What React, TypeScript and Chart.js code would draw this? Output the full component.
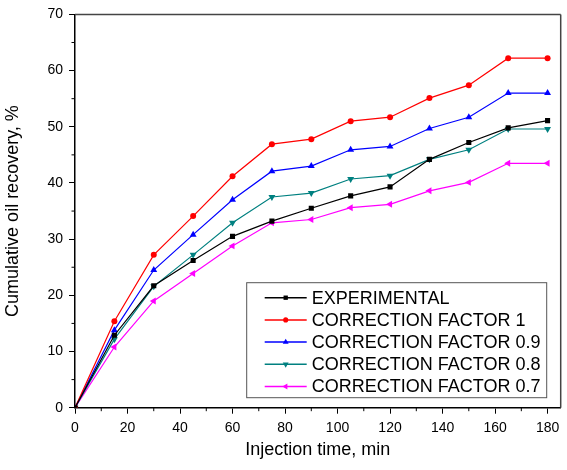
import React, { useEffect, useRef } from "react";
import Chart from "chart.js/auto";
import { drawPoint } from "chart.js/helpers";

// injection time, min
const times = [0, 15, 30, 45, 60, 75, 90, 105, 120, 135, 150, 165, 180];

// cumulative oil recovery, %
const experimental = [0, 12.9, 21.7, 26.2, 30.5, 33.2, 35.5, 37.7, 39.3, 44.2, 47.2, 49.8, 51.1];
const factor1 = [0, 15.4, 27.2, 34.1, 41.2, 46.9, 47.8, 51.0, 51.7, 55.1, 57.4, 62.2, 62.2];
const factor09 = [0, 13.8, 24.5, 30.8, 37.0, 42.1, 43.0, 45.9, 46.5, 49.7, 51.7, 56.0, 56.0];
const factor08 = [0, 12.2, 21.6, 27.2, 32.9, 37.5, 38.2, 40.7, 41.3, 44.2, 45.9, 49.6, 49.6];
const factor07 = [0, 10.8, 19.0, 23.9, 28.8, 32.9, 33.5, 35.6, 36.2, 38.6, 40.1, 43.5, 43.5];

const seriesLabels = [
  "EXPERIMENTAL",
  "CORRECTION FACTOR 1",
  "CORRECTION FACTOR 0.9",
  "CORRECTION FACTOR 0.8",
  "CORRECTION FACTOR 0.7",
];

const FONT = "'Liberation Sans', Arial, sans-serif";

const toPoints = (values: number[]) => values.map((y, i) => ({ x: times[i], y }));

const makeSet = (label: string, values: number[], color: string, pointStyle: any, rotation: number, radius: number) => ({
  label,
  data: toPoints(values),
  borderColor: color,
  backgroundColor: color,
  borderWidth: 1.2,
  pointStyle,
  rotation,
  pointRadius: radius,
  pointBorderWidth: 0,
  pointBackgroundColor: color,
  tension: 0,
});

// top/right frame, minor ticks and the boxed legend inside the plot
const framePlugin = {
  id: "frame",
  afterDraw(chart: any) {
    const { ctx, chartArea: a, scales } = chart;
    const line = (x1: number, y1: number, x2: number, y2: number) => {
      ctx.beginPath();
      ctx.moveTo(x1, y1);
      ctx.lineTo(x2, y2);
      ctx.stroke();
    };
    ctx.save();
    ctx.strokeStyle = "#444";
    ctx.lineWidth = 1.5;
    line(a.left, a.top, a.right, a.top);
    line(a.right, a.top, a.right, a.bottom);

    ctx.strokeStyle = "#000";
    ctx.lineWidth = 1;
    for (let v = 10; v < 185; v += 20) {
      const px = scales.x.getPixelForValue(v);
      line(px, a.bottom, px, a.bottom + 3.5);
    }
    for (let v = 5; v < 70; v += 10) {
      const py = scales.y.getPixelForValue(v);
      line(a.left - 3.5, py, a.left, py);
    }

    // legend
    const w = 300;
    const h = 115;
    const left = a.right - 14 - w;
    const top = a.bottom - 10 - h;
    ctx.strokeStyle = "#555";
    ctx.lineWidth = 1;
    ctx.strokeRect(left, top, w, h);
    ctx.font = "18px " + FONT;
    ctx.textBaseline = "middle";
    ctx.textAlign = "left";
    chart.data.datasets.forEach((ds: any, i: number) => {
      const y = top + 15 + i * 22.2;
      ctx.strokeStyle = ds.borderColor;
      ctx.lineWidth = 1.5;
      line(left + 18, y, left + 60, y);
      ctx.fillStyle = ds.borderColor;
      drawPoint(ctx, { pointStyle: ds.pointStyle, rotation: ds.rotation, radius: ds.pointRadius * 0.85, borderWidth: 0 }, left + 39, y);
      ctx.fillStyle = "#000";
      ctx.fillText(ds.label, left + 65, y + 1);
    });
    ctx.restore();
  },
};

export default function App() {
  const canvasRef = useRef<HTMLCanvasElement | null>(null);
  const chartRef = useRef<Chart | null>(null);

  useEffect(() => {
    if (chartRef.current) chartRef.current.destroy();
    const ctx = canvasRef.current?.getContext("2d");
    if (!ctx) return;

    chartRef.current = new Chart(ctx, {
      type: "line",
      data: {
        datasets: [
          makeSet(seriesLabels[0], experimental, "#000000", "rect", 0, 3.6),
          makeSet(seriesLabels[1], factor1, "#ff0000", "circle", 0, 3),
          makeSet(seriesLabels[2], factor09, "#0000ff", "triangle", 0, 4),
          makeSet(seriesLabels[3], factor08, "#008080", "triangle", 180, 4),
          makeSet(seriesLabels[4], factor07, "#ff00ff", "triangle", 270, 4),
        ],
      },
      options: {
        responsive: false,
        animation: false,
        layout: { padding: { top: 10.7, right: 6.3, left: 0, bottom: 0 } },
        plugins: {
          legend: { display: false },
          tooltip: { enabled: false },
        },
        scales: {
          x: {
            type: "linear",
            min: 0,
            max: 185,
            afterFit: (scale: any) => {
              scale.height = 62.3;
            },
            ticks: {
              stepSize: 20,
              includeBounds: false,
              maxRotation: 0,
              padding: 6,
              color: "#000",
              font: { family: FONT, size: 14 },
            },
            grid: { drawOnChartArea: false, drawTicks: true, tickLength: 6, tickColor: "#000", tickWidth: 1 },
            border: { color: "#000", width: 1.5 },
            title: {
              display: true,
              text: "Injection time, min",
              color: "#000",
              font: { family: FONT, size: 18 },
              padding: { top: 0, bottom: 9 },
            },
          },
          y: {
            min: 0,
            max: 70,
            afterFit: (scale: any) => {
              scale.width = 75;
            },
            ticks: {
              stepSize: 10,
              padding: 6,
              color: "#000",
              font: { family: FONT, size: 14 },
            },
            grid: { drawOnChartArea: false, drawTicks: true, tickLength: 6, tickColor: "#000", tickWidth: 1 },
            border: { color: "#000", width: 1.5 },
            title: {
              display: true,
              text: "Cumulative oil recovery, %",
              color: "#000",
              font: { family: FONT, size: 18 },
              padding: { top: 2, bottom: 0 },
            },
          },
        },
      },
      plugins: [framePlugin],
    });

    return () => {
      if (chartRef.current) {
        chartRef.current.destroy();
        chartRef.current = null;
      }
    };
  }, []);

  return (
    <div style={{ position: "absolute", left: 0, top: 0, width: 567, height: 470, background: "#fff" }}>
      <canvas ref={canvasRef} width={567} height={470} />
    </div>
  );
}
